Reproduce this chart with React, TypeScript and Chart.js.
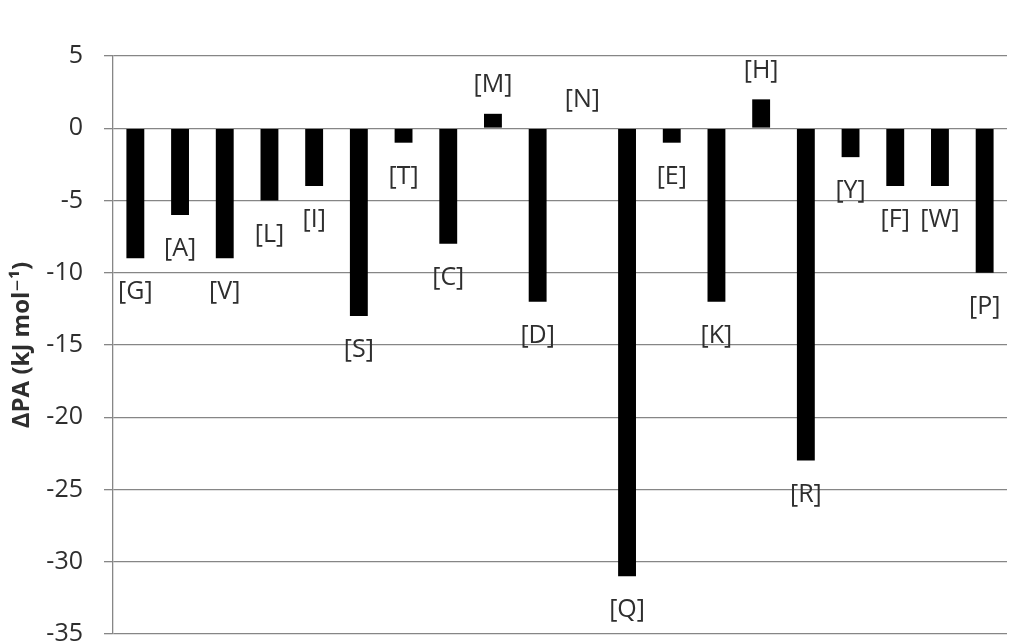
import React, { useEffect, useRef } from "react";
import { Chart, registerables } from "chart.js";

Chart.register(...registerables);

const categories = ["G", "A", "V", "L", "I", "S", "T", "C", "M", "D", "N", "Q", "E", "K", "H", "R", "Y", "F", "W", "P"];
const values = [-9, -6, -9, -5, -4, -13, -1, -8, 1, -12, 0, -31, -1, -12, 2, -23, -2, -4, -4, -10];
const yMin = -35;
const yMax = 5;
const yStep = 5;
const yTitle = "ΔPA (kJ mol⁻¹)";

const FONT = "'Open Sans', 'DejaVu Sans', sans-serif";
const TEXT = "#2e2e2e";
const GRID = "#868686";

const barLabels = {
  id: "barLabels",
  afterDatasetsDraw(chart: any) {
    const ctx = chart.ctx;
    const meta = chart.getDatasetMeta(0);
    ctx.save();
    ctx.font = `25px ${FONT}`;
    ctx.fillStyle = TEXT;
    ctx.textAlign = "center";
    ctx.textBaseline = "middle";
    meta.data.forEach((el: any, i: number) => {
      const v = values[i];
      const y = v < 0 ? el.y + 34 : el.y - 28.5;
      ctx.fillText(`[${categories[i]}]`, el.x, y);
    });
    ctx.restore();
  },
};

export default function App() {
  const ref = useRef<HTMLCanvasElement | null>(null);
  useEffect(() => {
    if (!ref.current) return;
    const chart = new Chart(ref.current, {
      type: "bar",
      data: {
        labels: categories.map((c) => `[${c}]`),
        datasets: [
          {
            data: values,
            backgroundColor: "#000000",
            borderWidth: 0,
            barPercentage: 0.4,
            categoryPercentage: 1,
          },
        ],
      },
      options: {
        animation: false,
        responsive: true,
        maintainAspectRatio: false,
        layout: { padding: { top: 56, bottom: 66, left: 0, right: 15 } },
        plugins: { legend: { display: false }, tooltip: { enabled: false } },
        scales: {
          x: { display: false },
          y: {
            min: yMin,
            max: yMax,
            afterFit(scale: any) {
              scale.width = 113;
            },
            ticks: {
              stepSize: yStep,
              padding: 21,
              color: TEXT,
              font: { family: FONT, size: 25 },
            },
            grid: { color: GRID, lineWidth: 1.3, tickLength: 9 },
            border: { color: GRID, width: 1.3 },
            title: {
              display: true,
              text: yTitle,
              color: TEXT,
              font: { family: FONT, size: 24, weight: "bold" },
              padding: { top: 8, bottom: 0 },
            },
          },
        },
      },
      plugins: [barLabels],
    });
    return () => chart.destroy();
  }, []);
  return (
    <div style={{ position: "fixed", left: 0, top: 0, width: 1022, height: 641, overflow: "hidden", background: "#fff" }}>
      <div style={{ position: "relative", width: 1022, height: 700 }}>
        <canvas ref={ref} />
      </div>
    </div>
  );
}
